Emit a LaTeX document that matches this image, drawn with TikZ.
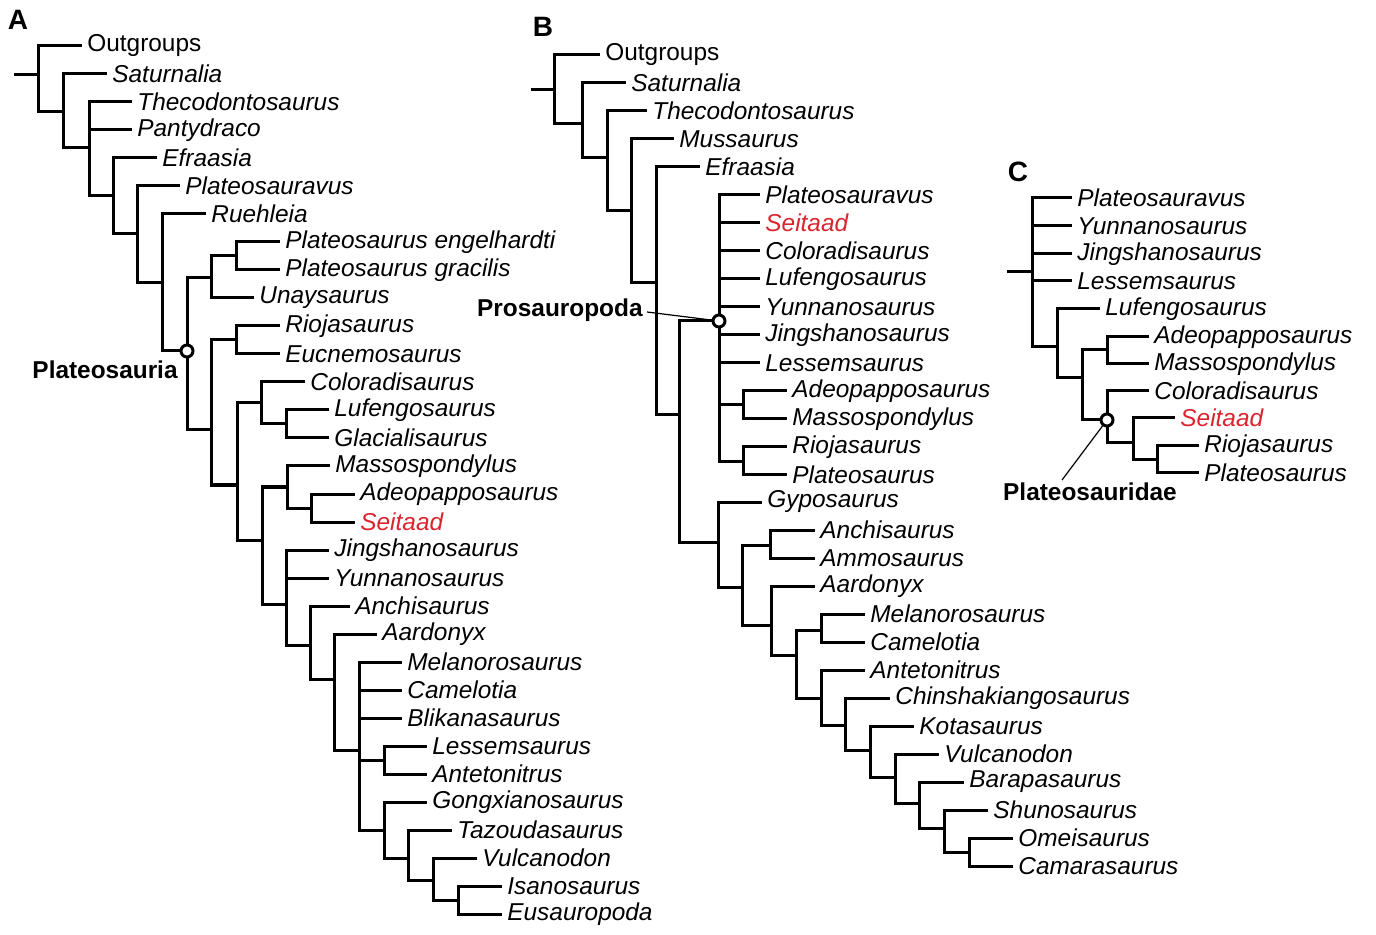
\documentclass[tikz,border=0pt]{standalone}
\usepackage{fontspec}
\setmainfont{Liberation Sans}
\definecolor{seit}{RGB}{218,37,47}
\tikzset{
  br/.style={line width=1.5pt,line cap=rect},
  lab/.style={anchor=west,inner sep=0pt,xshift=3.5pt,font=\fontsize{12.2}{14}\selectfont\itshape},
  up/.style={font=\fontsize{12.2}{14}\selectfont},
  red/.style={text=seit},
  clade/.style={font=\fontsize{12.2}{14}\selectfont\bfseries,inner sep=0pt},
  panel/.style={font=\fontsize{14}{16}\selectfont\bfseries,inner sep=0pt},
  knot/.style={circle,draw,fill=white,line width=1.5pt,minimum size=6pt,inner sep=0pt}
}
\newcommand\V[3]{\draw[br] (#1,#2)--(#1,#3);}
\newcommand\Hh[3]{\draw[br] (#1,#2)--(#3,#2);}
\newcommand\lf[5][]{\draw[br] (#2,#4)--(#3,#4); \node[lab,#1] at (#3,#4) {#5};}
\begin{document}
\begin{tikzpicture}[x=0.5pt,y=-0.5pt]
\useasboundingbox (0,0) rectangle (1376,935);
\fill[white] (0,0) rectangle (1376,935);
% ---------- A
\node[panel] (pA) at (18,20) {A};
\draw[br] (15,75)--(38,75); \V{38}{46}{112}
\lf[up]{38}{80}{46}{Outgroups}
\Hh{38}{112}{63} \V{63}{74}{148} \lf{63}{105}{74}{Saturnalia}
\Hh{63}{148}{89} \V{89}{102}{196} \lf{89}{130}{102}{Thecodontosaurus} \lf{89}{130}{130}{Pantydraco}
\Hh{89}{196}{113} \V{113}{158}{234} \lf{113}{155}{158}{Efraasia}
\Hh{113}{234}{137} \V{137}{186}{283} \lf{137}{178}{186}{Plateosauravus}
\Hh{137}{283}{162} \V{162}{214}{351} \lf{162}{204}{214}{Ruehleia}
\Hh{162}{351}{187} \V{187}{278}{430}
\Hh{187}{278}{211} \V{211}{256}{298} \Hh{211}{256}{236} \V{236}{242}{270}
\lf{236}{278}{242}{Plateosaurus engelhardti} \lf{236}{278}{270}{Plateosaurus gracilis}
\lf{211}{252}{298}{Unaysaurus}
\Hh{187}{430}{211} \V{211}{340}{485} \Hh{211}{340}{236} \V{236}{326}{354}
\lf{236}{278}{326}{Riojasaurus} \lf{236}{278}{354}{Eucnemosaurus}
\Hh{211}{485}{237} \V{237}{403}{540}
\Hh{237}{403}{261} \V{261}{382}{424} \lf{261}{303}{382}{Coloradisaurus}
\Hh{261}{424}{286} \V{286}{410}{438} \lf{286}{327}{410}{Lufengosaurus} \lf{286}{327}{438}{Glacialisaurus}
\Hh{237}{540}{262} \V{262}{487}{604} \Hh{262}{487}{287} \V{287}{466}{508} \lf{287}{328}{466}{Massospondylus}
\Hh{287}{508}{311} \V{311}{494}{522} \lf{311}{353}{494}{Adeopapposaurus} \lf[red]{311}{353}{522}{Seitaad}
\Hh{262}{604}{286} \V{286}{550}{645} \lf{286}{327}{550}{Jingshanosaurus} \lf{286}{327}{578}{Yunnanosaurus}
\Hh{286}{645}{310} \V{310}{606}{679} \lf{310}{348}{606}{Anchisaurus}
\Hh{310}{679}{334} \V{334}{634}{750} \lf{334}{375}{634}{Aardonyx}
\Hh{334}{750}{359} \V{359}{662}{830} \lf{359}{400}{662}{Melanorosaurus} \lf{359}{400}{690}{Camelotia} \lf{359}{400}{718}{Blikanasaurus}
\Hh{359}{760}{384} \V{384}{746}{774} \lf{384}{425}{746}{Lessemsaurus} \lf{384}{425}{774}{Antetonitrus}
\Hh{359}{830}{384} \V{384}{802}{858} \lf{384}{425}{802}{Gongxianosaurus}
\Hh{384}{858}{408} \V{408}{830}{880} \lf{408}{450}{830}{Tazoudasaurus}
\Hh{408}{880}{433} \V{433}{858}{900} \lf{433}{475}{858}{Vulcanodon}
\Hh{433}{900}{458} \V{458}{886}{914} \lf{458}{500}{886}{Isanosaurus} \lf{458}{500}{914}{Eusauropoda}
\node[knot] (kA) at (187,351) {};
\node[clade,anchor=east] (lA) at (178,370) {Plateosauria};
% ---------- B
\node[panel] (pB) at (543,27) {B};
\draw[br] (532,90)--(554,90); \V{554}{55}{124} \lf[up]{554}{598}{55}{Outgroups}
\Hh{554}{124}{582} \V{582}{83}{158} \lf{582}{624}{83}{Saturnalia}
\Hh{582}{158}{607} \V{607}{111}{211} \lf{607}{645}{111}{Thecodontosaurus}
\Hh{607}{211}{631} \V{631}{139}{283} \lf{631}{672}{139}{Mussaurus}
\Hh{631}{283}{656} \V{656}{167}{415} \lf{656}{698}{167}{Efraasia}
\Hh{656}{415}{679} \V{679}{321}{542}
\Hh{679}{321}{719} \V{719}{195}{462}
\lf{719}{758}{195}{Plateosauravus} \lf[red]{719}{758}{223}{Seitaad} \lf{719}{758}{251}{Coloradisaurus}
\lf{719}{758}{279}{Lufengosaurus} \lf{719}{758}{307}{Yunnanosaurus} \lf{719}{758}{335}{Jingshanosaurus}
\lf{719}{758}{363}{Lessemsaurus}
\Hh{719}{405}{743} \V{743}{391}{419} \lf{743}{785}{391}{Adeopapposaurus} \lf{743}{785}{419}{Massospondylus}
\Hh{719}{462}{743} \V{743}{447}{475} \lf{743}{785}{447}{Riojasaurus} \lf{743}{785}{475}{Plateosaurus}
\Hh{679}{542}{718} \V{718}{502}{587} \lf{718}{760}{502}{Gyposaurus}
\Hh{718}{587}{742} \V{742}{545}{625} \Hh{742}{545}{770} \V{770}{530}{558}
\lf{770}{813}{530}{Anchisaurus} \lf{770}{813}{558}{Ammosaurus}
\Hh{742}{625}{771} \V{771}{586}{655} \lf{771}{813}{586}{Aardonyx}
\Hh{771}{655}{796} \V{796}{630}{698} \Hh{796}{630}{821} \V{821}{614}{642}
\lf{821}{863}{614}{Melanorosaurus} \lf{821}{863}{642}{Camelotia}
\Hh{796}{698}{821} \V{821}{670}{725} \lf{821}{863}{670}{Antetonitrus}
\Hh{821}{725}{845} \V{845}{698}{750} \lf{845}{888}{698}{Chinshakiangosaurus}
\Hh{845}{750}{870} \V{870}{726}{777} \lf{870}{912}{726}{Kotasaurus}
\Hh{870}{777}{895} \V{895}{754}{803} \lf{895}{937}{754}{Vulcanodon}
\Hh{895}{803}{919} \V{919}{782}{828} \lf{919}{962}{782}{Barapasaurus}
\Hh{919}{828}{944} \V{944}{810}{852} \lf{944}{986}{810}{Shunosaurus}
\Hh{944}{852}{969} \V{969}{838}{866} \lf{969}{1011}{838}{Omeisaurus} \lf{969}{1011}{866}{Camarasaurus}
\node[knot] (kB) at (719,321) {};
\node[clade,anchor=east] (lB) at (643,310) {Prosauropoda};
\draw[line width=0.6pt] (lB.east)++(2pt,-1pt) -- (kB);
% ---------- C
\node[panel] (pC) at (1018,172) {C};
\draw[br] (1008,272)--(1032,272); \V{1032}{198}{347}
\lf{1032}{1070}{198}{Plateosauravus} \lf{1032}{1070}{226}{Yunnanosaurus}
\lf{1032}{1070}{254}{Jingshanosaurus} \lf{1032}{1070}{281}{Lessemsaurus}
\Hh{1032}{347}{1057} \V{1057}{309}{378} \lf{1057}{1098}{309}{Lufengosaurus}
\Hh{1057}{378}{1082} \V{1082}{350}{420} \Hh{1082}{350}{1107} \V{1107}{337}{364}
\lf{1107}{1147}{337}{Adeopapposaurus} \lf{1107}{1147}{364}{Massospondylus}
\Hh{1082}{420}{1107} \V{1107}{391}{443} \lf{1107}{1147}{391}{Coloradisaurus}
\Hh{1107}{443}{1133} \V{1133}{418}{460} \lf[red]{1133}{1173}{418}{Seitaad}
\Hh{1133}{460}{1157} \V{1157}{446}{473} \lf{1157}{1197}{446}{Riojasaurus} \lf{1157}{1197}{473}{Plateosaurus}
\node[knot] (kC) at (1107,420) {};
\node[clade] (lC) at (1090,492) {Plateosauridae};
\draw[line width=0.6pt] (kC) -- (1062,480);
\end{tikzpicture}
\end{document}
